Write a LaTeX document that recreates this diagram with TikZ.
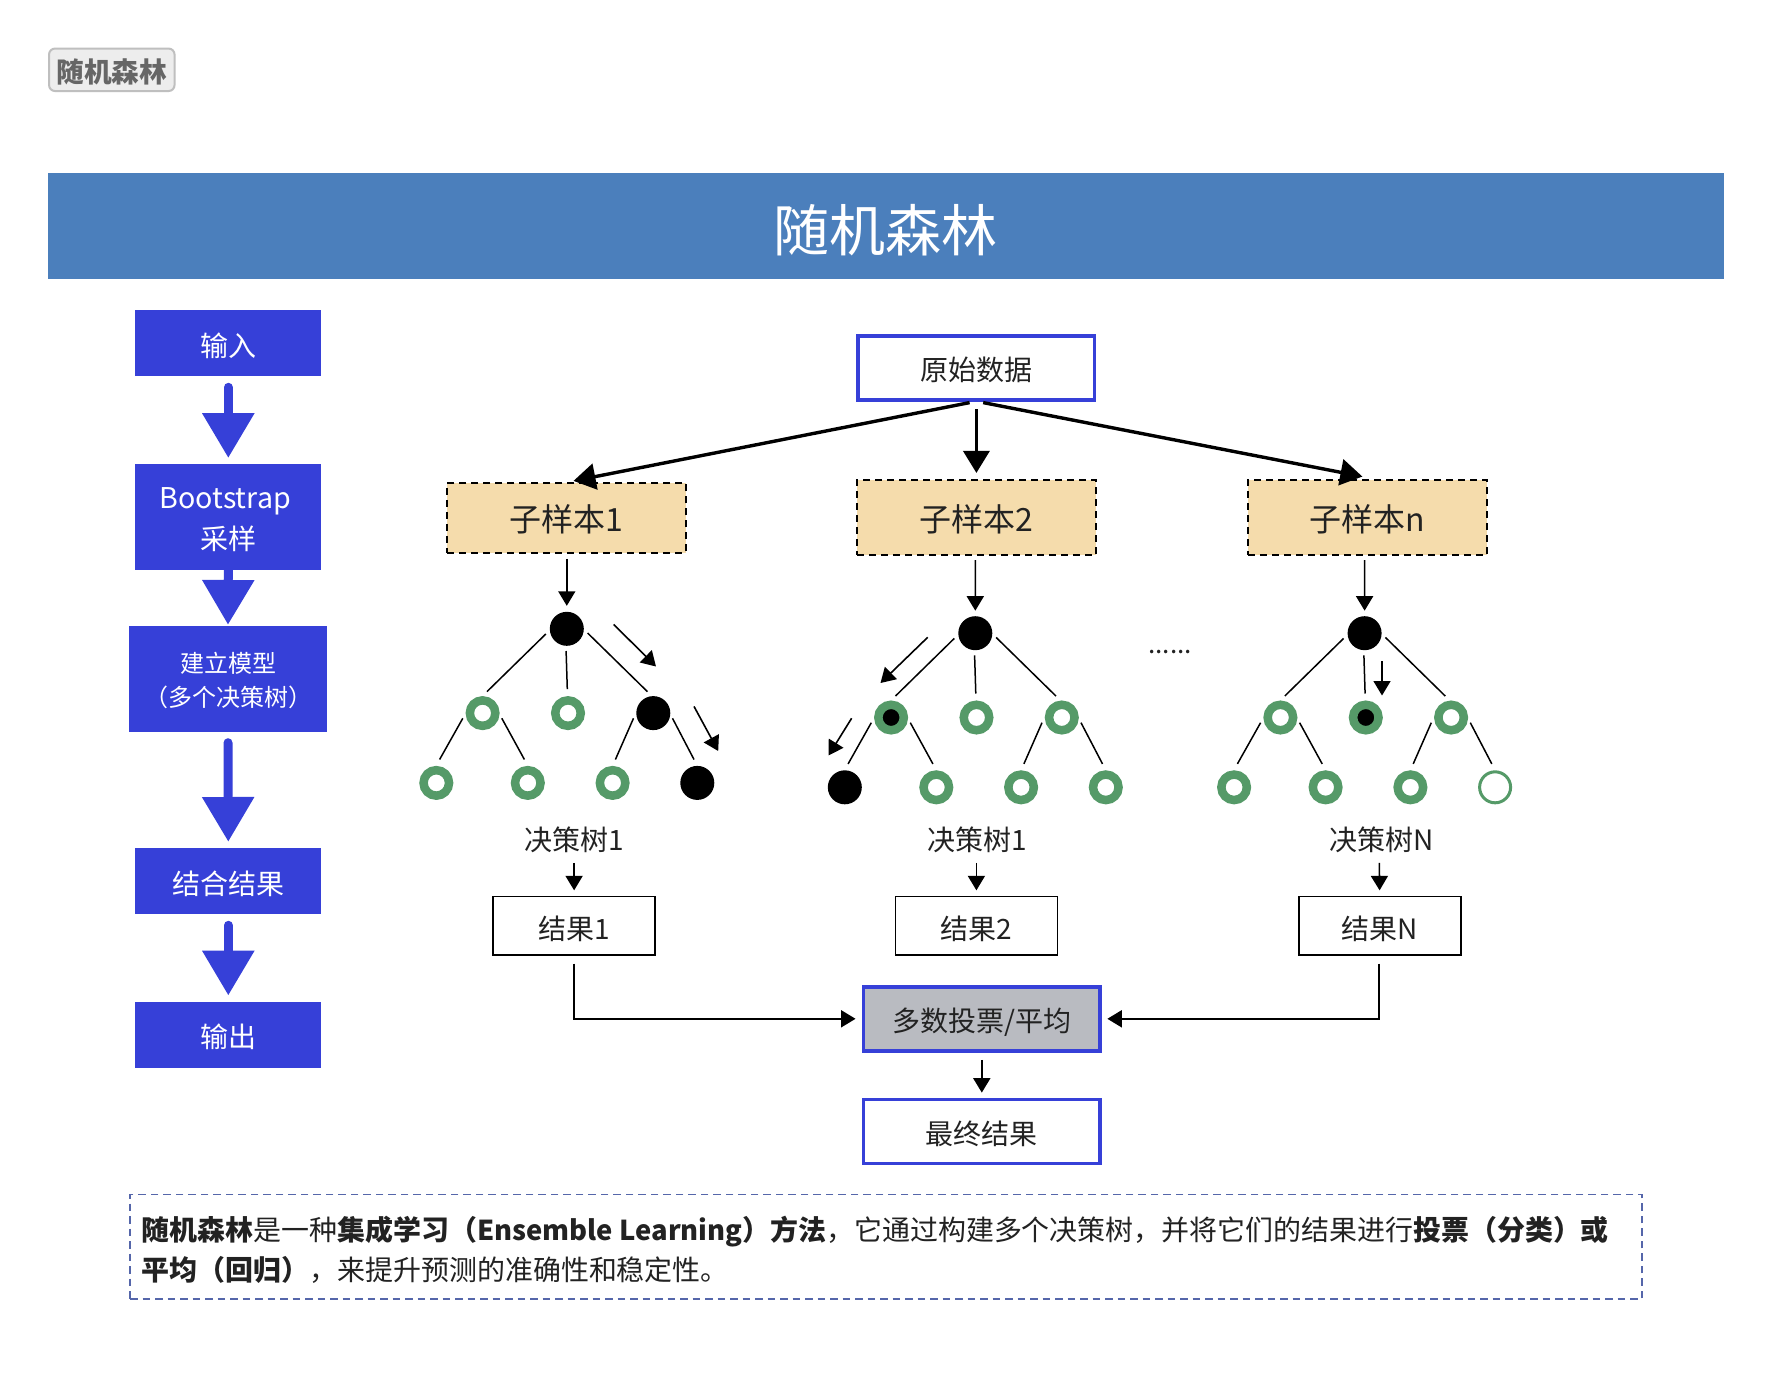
\documentclass[tikz,border=0pt]{standalone}
\usepackage{fontspec}
\setmainfont{Noto Sans CJK SC}
\usetikzlibrary{arrows.meta,calc}
\definecolor{blueA}{HTML}{3640D8}
\definecolor{bannerC}{HTML}{4B7FBC}
\definecolor{beige}{HTML}{F5DCAC}
\definecolor{greenC}{HTML}{559A68}
\definecolor{voteC}{HTML}{B9BBC1}
\definecolor{noteC}{HTML}{5566AA}
\definecolor{inkC}{HTML}{222222}
\newcommand\fsz[1]{\fontsize{#1pt}{#1pt}\selectfont}
\newcommand\dn[2]{\raisebox{-#1pt}[\height][\depth]{#2}}
\tikzset{
  every node/.style={inner sep=0pt,outer sep=0pt,text=inkC},
  flowbox/.style={rectangle,fill=blueA,text=white,minimum width=186pt,minimum height=66pt,font=\fsz{28}},
  bigarrow/.style={draw=blueA,line width=9pt,line cap=round,-{Triangle[length=44.7pt,width=50pt,fill=blueA]}},
  outlinebox/.style={rectangle,draw=blueA,line width=3.4pt,fill=white,minimum width=236.5pt,minimum height=64pt,font=\fsz{28}},
  samplebox/.style={rectangle,draw=black,line width=2pt,dash pattern=on 7pt off 5pt,fill=beige,minimum width=238.5pt,font=\fsz{32}},
  resultbox/.style={rectangle,draw=black,line width=1.8pt,fill=white,minimum width=162pt,minimum height=58.5pt,font=\fsz{28}},
  thickarrow/.style={draw=black,line width=3.4pt,-{Triangle[length=22pt,width=26pt]}},
  smallarrow/.style={draw=black,line width=1.6pt,-{Triangle[length=14.5pt,width=17pt]}},
  elbowarrow/.style={draw=black,line width=2pt,-{Triangle[length=14.5pt,width=17pt]}},
  treeline/.style={draw=black,line width=1.5pt},
  solid node/.style={circle,fill=black,minimum size=34pt},
  ring/.style={circle,draw=greenC,line width=8.5pt,fill=white,minimum size=25.5pt},
  ringdot/.style={ring,fill=black},
  thinring/.style={circle,draw=greenC,line width=3pt,fill=white,minimum size=31pt},
  label text/.style={font=\fsz{28}},
}
\newcommand\treeedges[1]{%
  \draw[treeline] ($(#1r)+(-21,5.2)$) -- ($(#1c1)+(4.4,-21.5)$);
  \draw[treeline] ($(#1r)+(-0.7,22.2)$) -- ($(#1c2)+(-0.7,-24)$);
  \draw[treeline] ($(#1r)+(20.8,4.2)$) -- ($(#1c3)+(-5.8,-21.4)$);
  \draw[treeline] ($(#1c1)+(-19.8,5.2)$) -- ($(#1l1)+(3.3,-23.4)$);
  \draw[treeline] ($(#1c1)+(19.2,5.2)$) -- ($(#1l2)+(-3.4,-23.4)$);
  \draw[treeline] ($(#1c3)+(-19.8,5.2)$) -- ($(#1l3)+(2.8,-23.4)$);
  \draw[treeline] ($(#1c3)+(19.2,5.2)$) -- ($(#1l4)+(-3.3,-23.4)$);
}
\begin{document}
\begin{tikzpicture}[x=1pt,y=-1pt]
\useasboundingbox (0,0) rectangle (1772,1376);
\fill[white] (0,0) rectangle (1772,1376);
% tag and banner
\node[rectangle,rounded corners=6pt,draw=black!25,line width=2pt,fill=black!7,text=black!60,
  minimum width=125.5pt,minimum height=42.5pt,font=\fsz{27.7}\bfseries] (tag) at (111.8,69.8) {\dn{2.3}{随机森林}};
\node[rectangle,fill=bannerC,text=white,minimum width=1675.5pt,minimum height=105.7pt,font=\fsz{56}] (banner) at (885.8,225.8) {\dn{4}{随机森林}};
% left flow
\node[flowbox] (in) at (228.3,343.3) {\dn{2.3}{输入}};
\node[flowbox,minimum height=106pt] (boot) at (228.3,516.9) {};
\node[text=white,align=center,font=\fontsize{28pt}{40.5pt}\selectfont] (boottext) at (228.3,519.5) {{\fontsize{28.6pt}{40.5pt}\selectfont Bootstrap\hspace*{6pt}}\\采样};
\node[flowbox,minimum width=198.8pt,minimum height=106pt] (model) at (228,678.7) {};
\node[text=white,align=center,font=\fontsize{24pt}{34.5pt}\selectfont] (modeltext) at (228,680.3) {建立模型\\（多个决策树）};
\node[flowbox] (merge) at (228.3,881.3) {\dn{2.3}{结合结果}};
\node[flowbox] (out) at (228.3,1034.9) {\dn{2.3}{输出}};
\draw[bigarrow,shorten <=11pt,shorten >=6pt] (in.south) -- (boot.north);
\draw[bigarrow,line cap=butt,shorten >=1pt] (boot.south) -- (model.north);
\draw[bigarrow,shorten <=11pt,shorten >=6.6pt] (model.south) -- (merge.north);
\draw[bigarrow,shorten <=11pt,shorten >=6.5pt] (merge.south) -- (out.north);
% top of the main diagram
\node[outlinebox] (orig) at (976.4,368) {\dn{2.3}{原始数据}};
\node[samplebox,minimum height=70pt] (s1) at (566.5,517.9) {\dn{1.5}{子样本1}};
\node[samplebox,minimum height=75.5pt] (s2) at (976.4,517.3) {\dn{1.7}{子样本2}};
\node[samplebox,minimum height=75.5pt] (sn) at (1367.4,517.3) {\dn{1.7}{子样本n}};
\draw[thickarrow] ($(orig.south)+(-6.8,2.6)$) -- ($(s1.north)+(7,-2)$);
\draw[thickarrow] ($(orig.south)+(0,9)$) -- ($(s2.north)+(0,-6.6)$);
\draw[thickarrow] ($(orig.south)+(6.8,2.6)$) -- ($(sn.north)+(-5,-3)$);
% tree 1
\node[solid node] (ar) at (566.8,628.8) {};
\node[ring] (ac1) at (482.6,713.1) {};
\node[ring] (ac2) at (568,713.1) {};
\node[solid node] (ac3) at (653.3,713.1) {};
\node[ring] (al1) at (436.3,782.9) {};
\node[ring] (al2) at (527.8,782.9) {};
\node[ring] (al3) at (612.6,782.9) {};
\node[solid node] (al4) at (697.3,782.9) {};
\treeedges{a}
% tree 2
\node[solid node] (br) at (975.3,633.2) {};
\node[ringdot] (bc1) at (891.1,717.5) {};
\node[ring] (bc2) at (976.5,717.5) {};
\node[ring] (bc3) at (1061.8,717.5) {};
\node[solid node] (bl1) at (844.8,787.3) {};
\node[ring] (bl2) at (936.3,787.3) {};
\node[ring] (bl3) at (1021.1,787.3) {};
\node[ring] (bl4) at (1105.8,787.3) {};
\treeedges{b}
% tree 3
\node[solid node] (cr) at (1364.6,633.2) {};
\node[ring] (cc1) at (1280.4,717.5) {};
\node[ringdot] (cc2) at (1365.8,717.5) {};
\node[ring] (cc3) at (1451.1,717.5) {};
\node[ring] (cl1) at (1234.1,787.3) {};
\node[ring] (cl2) at (1325.6,787.3) {};
\node[ring] (cl3) at (1410.4,787.3) {};
\node[thinring] (cl4) at (1495.1,787.3) {};
\treeedges{c}
\draw[smallarrow] ($(s1.south)+(0.3,6)$) -- ($(ar.north)+(0,-6)$);
\draw[smallarrow] ($(s2.south)+(-1.1,5)$) -- ($(br.north)+(0,-5.5)$);
\draw[smallarrow] ($(sn.south)+(-2.8,5)$) -- ($(cr.north)+(0,-5.5)$);
% free direction arrows
\coordinate (p1s) at (613.7,624.4); \coordinate (p1e) at (656,666.5);
\coordinate (p2s) at (694,706.4);   \coordinate (p2e) at (718.2,751);
\coordinate (p3s) at (927.7,637.3); \coordinate (p3e) at (880.5,683);
\coordinate (p4s) at (851.6,718.3); \coordinate (p4e) at (828.5,755.5);
\coordinate (p5s) at (1382,661);    \coordinate (p5e) at (1382,695.5);
\draw[smallarrow] (p1s) -- (p1e);
\draw[smallarrow] (p2s) -- (p2e);
\draw[smallarrow] (p3s) -- (p3e);
\draw[smallarrow] (p4s) -- (p4e);
\draw[smallarrow] (p5s) -- (p5e);
\node[font=\fsz{26},anchor=base] (dots) at (1170.2,653) {......};
% labels and results
\node[label text] (t1) at (574.6,840.3) {决策树1};
\node[label text] (t2) at (976.9,840.3) {决策树1};
\node[label text] (t3) at (1382.1,840.3) {决策树N};
\node[resultbox] (r1) at (574.1,925.8) {\dn{3.4}{结果1}};
\node[resultbox] (r2) at (976.4,925.8) {\dn{3.4}{结果2}};
\node[resultbox] (r3) at (1379.6,925.8) {\dn{3.4}{结果N}};
\draw[smallarrow] ($(t1.south)+(-0.5,9.5)$) -- ($(r1.north)+(0,-6.2)$);
\draw[smallarrow] ($(t2.south)+(-0.5,9.5)$) -- ($(r2.north)+(0,-6.2)$);
\draw[smallarrow] ($(t3.south)+(-2.8,9.5)$) -- ($(r3.north)+(0,-6.2)$);
% vote and final
\node[outlinebox,fill=voteC] (vote) at (981.8,1018.8) {\dn{3.4}{多数投票/平均}};
\node[outlinebox] (final) at (981.8,1131.6) {\dn{2.3}{最终结果}};
\draw[elbowarrow] (r1.south) ++(0,8.5) |- ($(vote.west)+(-8,0)$);
\draw[elbowarrow] (r3.south) ++(-0.3,8.5) |- ($(vote.east)+(7.3,0)$);
\draw[elbowarrow] ($(vote.south)+(0,9)$) -- ($(final.north)+(0,-7)$);
% note
\node[rectangle,draw=noteC,line width=1.7pt,dash pattern=on 7.5pt off 5pt,minimum width=1512pt,minimum height=104.4pt] (note) at (886,1246.6) {};
\node[anchor=base west,font=\fsz{27.95}] (line1) at (141.8,1240.7)
  {\textbf{随机森林}是一种\textbf{集成学习（{\fontsize{27.4pt}{27.4pt}\selectfont Ensemble Learning}）方法}，它通过构建多个决策树，并将它们的结果进行\textbf{投票（分类）或}};
\node[anchor=base west,font=\fsz{27.95}] (line2) at (141.8,1280.7)
  {\textbf{平均（回归）}，来提升预测的准确性和稳定性。};
\end{tikzpicture}
\end{document}
